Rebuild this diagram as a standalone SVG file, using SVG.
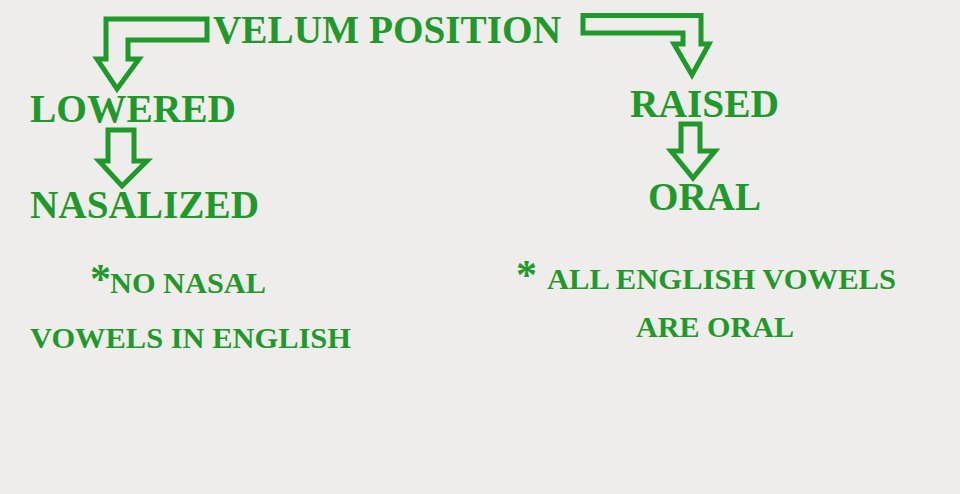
<svg xmlns="http://www.w3.org/2000/svg" width="960" height="494" viewBox="0 0 960 494">
<style>
.t{font-family:"Liberation Serif","Times New Roman",serif;font-weight:bold;fill:#1f9a2a}
.big{font-size:39px}
.sm{font-size:30px}
.ast{font-size:42px}
.arr{fill:none;stroke:#1f9a2a;stroke-width:5;stroke-linejoin:miter}
</style>
<rect width="960" height="494" fill="#eeedeb"/>
<g id="velum"><text class="t big" x="213" y="43" textLength="348" lengthAdjust="spacingAndGlyphs">VELUM POSITION</text></g>
<g id="lowered"><text class="t big" x="30" y="122" textLength="206" lengthAdjust="spacingAndGlyphs">LOWERED</text></g>
<g id="nasalized"><text class="t big" x="30" y="218" textLength="229" lengthAdjust="spacingAndGlyphs">NASALIZED</text></g>
<g id="raised"><text class="t big" x="630" y="117" textLength="149" lengthAdjust="spacingAndGlyphs">RAISED</text></g>
<g id="oral"><text class="t big" x="648" y="210" textLength="113" lengthAdjust="spacingAndGlyphs">ORAL</text></g>
<g id="note-left">
<text class="t ast" x="90" y="293">*</text>
<text class="t sm" x="110" y="293" textLength="156" lengthAdjust="spacingAndGlyphs">NO NASAL</text>
<text class="t sm" x="30" y="348" textLength="321" lengthAdjust="spacingAndGlyphs">VOWELS IN ENGLISH</text>
</g>
<g id="note-right">
<text class="t ast" x="516" y="289">*</text>
<text class="t sm" x="547" y="289" textLength="349" lengthAdjust="spacingAndGlyphs">ALL ENGLISH VOWELS</text>
<text class="t sm" x="636" y="337" textLength="158" lengthAdjust="spacingAndGlyphs">ARE ORAL</text>
</g>
<g id="connectors">
<path class="arr" d="M207,19 L106,19 L106,59 L97,59 L117,89 L139,59 L128,59 L128,40 L207,40 Z"/>
<path class="arr" d="M583,15.5 L701,15.5 L701,44 L709,44 L692,75 L674,44 L683,44 L683,33 L583,33 Z"/>
<path class="arr" d="M108,130 L134,130 L134,161 L147,161 L122,186 L99,161 L108,161 Z"/>
<path class="arr" d="M681,124 L700,124 L700,151 L715,151 L693,178 L671,151 L681,151 Z"/>
</g>
</svg>
